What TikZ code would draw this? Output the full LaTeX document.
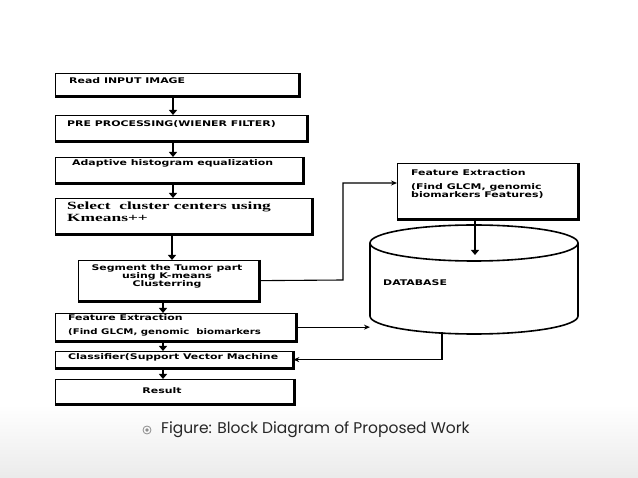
\documentclass[tikz,border=0pt]{standalone}
\usepackage{graphicx}
\usepackage{fontspec}
\setmainfont{Liberation Sans}
\newfontfamily\boxfont{DejaVu Sans}
\newfontfamily\serifbox{Liberation Serif}
\newfontfamily\capfont{Poppins}
\newcommand\wbx[1]{\scalebox{1.4}[1]{#1}}
\newcommand\wbn[1]{\scalebox{1.3}[1]{#1}}
\newcommand\wsr[1]{\scalebox{1.58}[1]{#1}}
\usetikzlibrary{arrows.meta,calc}
\begin{document}
\begin{tikzpicture}[x=1pt,y=-1pt,
  blk/.style={draw, line width=1.3pt, inner sep=0pt, anchor=north west, fill=white},
  shad/.style={line width=2.6pt},
  lbl/.style={font=\boxfont\bfseries\fontsize{7.8}{9}\selectfont, inner sep=0pt, anchor=west},
  slbl/.style={font=\serifbox\bfseries\fontsize{11}{12}\selectfont, inner sep=0pt, anchor=west},
  clbl/.style={font=\boxfont\bfseries\fontsize{7.8}{9}\selectfont, inner sep=0pt, anchor=center},
  varr/.style={line width=2.6pt, -{Triangle[length=5pt,width=8pt]}},
  harr/.style={line width=1.1pt, -{Stealth[length=6pt,width=5pt]}},
  cyl/.style={line width=1.6pt},
]
\useasboundingbox (0,0) rectangle (638,478);
\fill[white] (0,0) rectangle (638,478);
\shade[top color=white, bottom color=black!8] (0,405) rectangle (638,478);

% left column boxes
\node[blk, minimum width=243pt, minimum height=22pt] (b1) at (55,73) {};
\node[blk, minimum width=251pt, minimum height=25pt] (b2) at (55,115) {};
\node[blk, minimum width=247pt, minimum height=25pt] (b3) at (55,157) {};
\node[blk, minimum width=256pt, minimum height=35pt] (b4) at (55,198) {};
\node[blk, minimum width=180pt, minimum height=40pt] (b5) at (78,260) {};
\node[blk, minimum width=240pt, minimum height=27pt] (b6) at (55,313) {};
\node[blk, minimum width=237pt, minimum height=16pt] (b7) at (55,351) {};
\node[blk, minimum width=238pt, minimum height=24pt] (b8) at (55,379) {};
\node[blk, minimum width=180pt, minimum height=55pt] (fr) at (397,163) {};
\foreach \n in {b1,b2,b3,b4,b5,b6,b7,b8,fr}
  \draw[shad] (\n.north east) -- (\n.south east) -- (\n.south west);

% texts
\node[lbl] (t1) at (69,81) {\wbx{Read INPUT IMAGE}};
\node[lbl] (t2) at (67,124) {\wbx{PRE PROCESSING(WIENER FILTER)}};
\node[lbl] (t3) at (72,163) {\wbx{Adaptive histogram equalization}};
\node[slbl] (t4a) at (67,207) {\wsr{Select\ \ cluster centers using}};
\node[slbl] (t4b) at (67,218) {\wsr{Kmeans++}};
\node[clbl] (t5a) at (167,268) {\wbx{Segment the Tumor part}};
\node[clbl] (t5b) at (167,276) {\wbx{using K-means}};
\node[clbl] (t5c) at (167,284) {\wbx{Clusterring}};
\node[lbl] (t6a) at (68,318) {\wbx{Feature Extraction}};
\node[lbl] (t6b) at (68,332) {\wbn{(Find GLCM, genomic\ \ biomarkers}};
\node[lbl] (t7) at (68,357) {\wbx{Classifier(Support Vector Machine}};
\node[clbl] (t8) at (162,391) {\wbx{Result}};
\node[lbl] (tf1) at (411,173) {\wbx{Feature Extraction}};
\node[lbl, anchor=north west, align=left] (tf2) at (411,183) {\wbx{(Find GLCM, genomic}\\[-1pt]\wbx{biomarkers Features)}};

% database cylinder
\draw[cyl, fill=white] (370,243) -- (370,316) arc[start angle=180, end angle=0, x radius=104, y radius=18] -- (578,243);
\draw[cyl] (474,243) ellipse[x radius=104, y radius=18];
\node[lbl] (db) at (383,283) {\wbx{DATABASE}};
\coordinate (dbtop) at (475,255);
\coordinate (dbleft) at (370,0);
\coordinate (dbbot) at (442,332);
\coordinate (dbstub) at (442,348);

% left column arrows
\draw[varr] (b1.south -| 173,0) -- (b2.north -| 173,0);
\draw[varr] (b2.south -| 173,0) -- (b3.north -| 173,0);
\draw[varr] (b3.south -| 173,0) -- (b4.north -| 173,0);
\draw[varr] (b4.south -| 172,0) -- (b5.north -| 172,0);
\draw[varr] (b5.south -| 163,0) -- (b6.north -| 163,0);
\draw[varr] (b6.south -| 163,0) -- (b7.north -| 163,0);
\draw[varr] (b7.south -| 163,0) -- (b8.north -| 163,0);

% right side connectors
\coordinate (j1) at (343,280);
\coordinate (frin) at (397,183);
\draw[harr] (b5.east) -- (j1) |- (frin);
\draw[varr] (fr.south -| 475,0) -- (dbtop);
\draw[harr] (b6.east) -- (b6.east -| dbleft);
\draw[line width=2.6pt] (dbbot) -- (dbstub);
\draw[harr] (dbstub) |- (b7.east);

% caption
\node[circle, draw=black!45, line width=0.8pt, minimum size=8pt, inner sep=0pt] (bul) at (147,430) {};
\fill[black!45] (bul.center) circle[radius=1.8];
\node[font=\capfont\fontsize{15.5}{17}\selectfont, text=black!85, anchor=west, inner sep=0pt] (cap) at (161,430) {Figure: Block Diagram of Proposed Work};
\end{tikzpicture}
\end{document}
